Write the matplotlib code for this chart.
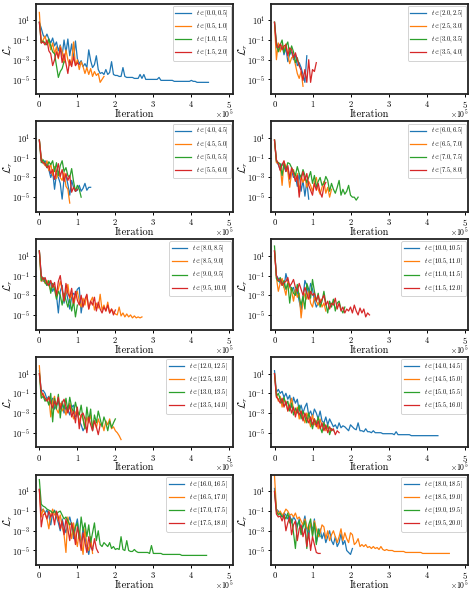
import numpy as np
import matplotlib
matplotlib.use("Agg")
import matplotlib.pyplot as plt
from matplotlib.ticker import FuncFormatter, FixedLocator, NullLocator

plt.rcParams.update({
    "font.family": "serif",
    "font.serif": ["cmr10", "DejaVu Serif"],
    "mathtext.fontset": "cm",
    "axes.formatter.use_mathtext": True,
    "axes.unicode_minus": False,
})

# iteration step between logged values
log_step = 5000
x_scale = 1e5

# t-interval start values (each interval 0.5 long), four per panel
t_starts = [[0.0, 0.5, 1.0, 1.5], [2.0, 2.5, 3.0, 3.5], [4.0, 4.5, 5.0, 5.5],
            [6.0, 6.5, 7.0, 7.5], [8.0, 8.5, 9.0, 9.5], [10.0, 10.5, 11.0, 11.5],
            [12.0, 12.5, 13.0, 13.5], [14.0, 14.5, 15.0, 15.5],
            [16.0, 16.5, 17.0, 17.5], [18.0, 18.5, 19.0, 19.5]]

# log10 of residual loss, per panel, per interval
loss_t00_02 = [
    [0.8,0.2,-0.5,-0.8,-0.4,-0.9,-1.3,-0.8,-1.6,-1.2,-2.1,-1.5,-2.6,-1.0,-2.3,-0.9,-2.6,-1.4,-3.0,-1.1,
     -2.9,-3.4,-3.1,-3.7,-3.4,-3.8,-2.0,-3.1,-3.8,-3.5,-2.6,-4.0,-4.4,-4.3,-4.5,-4.0,-4.5,-4.3,-3.2,-4.5,
     -4.6,-4.6,-4.7,-4.7,-3.8,-4.7,-4.8,-4.8,-4.8,-4.8,-4.9,-4.9,-4.9,-4.5,-4.9,-4.5,-5.0,-5.0,-5.0,-5.0,
     -5.0,-5.0,-5.0,-4.8,-5.1,-5.1,-5.1,-5.1,-5.1,-5.1,-5.1,-5.2,-5.2,-5.2,-5.2,-5.2,-5.2,-5.2,-5.2,-5.2,
     -5.1,-5.2,-5.2,-5.3,-5.3,-5.3,-5.3,-5.3,-5.3,-5.3],
    [1.8,-1.3,-1.0,-0.6,-1.4,-1.2,-2.0,-1.3,-2.4,-1.7,-2.9,-1.6,-2.2,-3.3,-2.0,-3.0,-3.6,-3.2,-1.2,-3.6,
     -3.0,-4.0,-3.2,-3.7,-4.4,-3.8,-4.5,-3.9,-4.7,-4.2,-4.6,-4.4,-5.3,-5.0,-4.7],
    [0.8,-1.3,-1.1,-1.3,-1.5,-0.9,-1.6,-2.2,-2.4,-3.6,-4.8,-4.2,-3.9,-3.2],
    [0.8,-1.3,-1.2,-1.5,-1.0,-2.1,-2.4,-3.6,-3.0,-2.2,-2.8,-1.8,-3.3,-2.4,-3.4,-4.4,-3.0,-3.7,-2.7,-3.6,
     -3.3,-3.5],
]
loss_t02_04 = [
    [0.8,-1.8,-1.4,-2.0,-1.5,-2.5,-1.8,-3.2,-2.4,-2.2,-3.0,-2.5,-3.6,-3.3,-3.8,-4.5,-5.3,-2.6],
    [0.8,-3.0,-1.3,-2.2,-1.5,-2.0,-1.4,-2.5,-3.4,-2.8,-2.6,-3.5,-4.4,-4.9,-4.2,-5.7],
    [0.8,-1.2,-2.2,-1.5,-1.0,-2.3,-1.6,-1.2,-2.5,-1.6,-2.2,-3.3,-2.8,-3.6],
    [0.8,-1.5,-1.8,-1.4,-2.0,-1.6,-1.5,-2.6,-1.8,-2.0,-2.8,-2.3,-3.0,-3.6,-4.1,-5.1,-4.0,-5.3,-3.0,-5.3,
     -4.0,-4.2,-3.3],
]
loss_t04_06 = [
    [0.8,-1.0,-1.6,-1.3,-1.8,-2.2,-3.0,-2.4,-4.2,-2.6,-3.0,-3.6,-5.2,-3.1,-2.8,-3.7,-4.8,-3.3,-4.0,-4.4,
     -4.3,-3.8,-4.4,-4.1,-3.6,-4.3,-4.0,-4.0],
    [0.8,-1.0,-1.5,-1.8,-1.3,-2.3,-1.6,-2.8,-1.9,-3.1,-2.4,-3.0,-3.3,-2.5,-3.9,-4.2,-5.6],
    [0.8,-1.5,-1.2,-1.6,-2.0,-1.4,-1.7,-1.3,-2.4,-1.5,-2.8,-1.8,-1.3,-2.4,-2.0,-2.8,-3.0,-2.1,-3.4,-4.4,
     -3.8,-4.2,-5.0],
    [0.8,-1.3,-1.5,-1.6,-2.0,-1.8,-2.6,-2.2,-3.2,-2.4,-1.6,-2.9,-2.2,-3.4,-2.6,-3.3,-2.8,-4.5,-4.0,-4.4,
     -4.2],
]
loss_t06_08 = [
    [0.8,-1.4,-1.7,-2.2,-1.6,-1.9,-2.4,-2.0,-3.2,-2.3,-3.0,-2.8,-3.9,-2.6,-4.4,-3.3,-4.9,-3.4,-5.2],
    [0.8,-1.5,-1.5,-1.7,-3.8,-1.4,-1.9,-2.4,-4.0,-2.5,-2.2,-3.3,-2.6,-4.5,-2.8,-3.5,-2.9,-4.0,-3.4,-3.8,
     -4.4,-3.5,-3.0,-4.2,-4.7,-4.0,-3.4,-4.6,-4.0,-5.0,-4.2],
    [0.8,-1.3,-1.5,-1.6,-2.8,-1.6,-2.2,-1.5,-1.6,-2.0,-2.4,-2.8,-1.9,-2.6,-3.0,-2.2,-2.8,-3.5,-3.0,-2.4,
     -3.6,-2.8,-4.0,-3.4,-3.0,-3.8,-3.6,-2.9,-3.3,-4.4,-3.6,-4.2,-4.6,-4.0,-3.3,-4.8,-4.2,-4.7,-4.4,-3.8,
     -4.8,-5.0,-5.0,-5.3,-5.0],
    [0.8,-1.2,-1.6,-2.3,-1.7,-1.3,-2.4,-1.8,-3.1,-2.0,-2.6,-3.4,-2.8,-5.0,-3.2,-2.4,-3.3,-2.6,-3.8,-4.3,
     -4.8,-3.6,-4.3,-3.6,-4.5,-5.0,-3.9,-3.5],
]
loss_t08_10 = [
    [1.5,-1.0,-1.6,-1.3,-2.0,-1.6,-1.8,-2.6,-2.2,-3.0,-4.8,-2.6,-2.0,-3.8,-2.5,-3.4,-4.4,-3.2,-2.8,-3.0,
     -2.4,-2.2,-4.8,-3.5],
    [1.5,-1.6,-1.3,-1.8,-1.5,-2.0,-2.5,-1.8,-2.2,-3.2,-2.4,-1.6,-2.4,-3.5,-2.8,-1.9,-3.4,-2.8,-4.0,-3.2,
     -2.6,-3.6,-4.2,-3.3,-4.0,-3.0,-4.4,-3.6,-3.2,-4.5,-3.8,-4.3,-2.9,-4.5,-4.0,-4.6,-3.7,-4.8,-4.4,-4.7,
     -4.9,-5.0,-4.2,-5.1,-4.8,-5.2,-4.9,-5.2,-5.0,-5.3,-5.1,-5.3,-5.2,-5.3,-5.2],
    [1.5,-1.5,-1.2,-1.7,-2.0,-1.5,-2.8,-1.8,-2.4,-3.4,-2.6,-3.0,-4.0,-2.8,-3.5,-4.2,-3.4,-4.6,-3.6,-5.2,
     -4.0],
    [1.5,-1.0,-1.4,-1.2,-1.8,-2.0,-1.5,-2.2,-1.7,-3.0,-1.6,-1.0,-2.4,-3.6,-1.8,-2.8,-3.2,-2.3,-3.8,-2.6,
     -3.5,-4.0,-3.0,-4.2,-3.4,-2.9,-4.4,-3.6,-4.0,-3.2,-4.6,-3.7,-4.4,-4.8,-4.2,-4.6,-4.0,-4.8,-4.4,-5.0,
     -4.5],
]
loss_t10_12 = [
    [1.5,-1.0,-1.3,-1.8,-1.5,-2.2,-0.8,-1.6,-2.0,-2.5,-2.2,-3.0,-2.6,-3.6,-4.5,-3.2,-1.5,-2.0,-3.0,-1.8,
     -2.4,-3.5,-4.2,-3.8],
    [1.5,-1.2,-2.6,-1.8,-1.3,-2.2,-3.0,-1.6,-2.2,-2.6,-3.6,-2.4,-3.2,-2.8,-5.3,-3.6,-2.8,-3.4,-2.6,-3.8,
     -4.2,-3.2,-3.6,-4.0,-3.4,-4.2,-3.8,-4.6],
    [2.0,-1.3,-1.6,-1.2,-2.0,-1.5,-2.4,-1.8,-3.8,-2.2,-2.8,-3.0,-1.9,-3.2,-4.0,-3.1,-4.4,-1.8,-2.4,-3.3,
     -1.4,-2.6,-3.6,-2.8,-4.2,-3.6,-2.6,-3.8,-4.8,-3.6,-4.2,-3.4,-4.6,-3.8,-3.6,-4.4,-4.8,-4.2],
    [1.5,-1.0,-1.5,-1.4,-2.0,-1.7,-1.6,-1.2,-2.1,-1.8,-1.4,-2.2,-2.6,-1.8,-2.4,-3.0,-2.2,-2.8,-3.4,-2.6,
     -3.0,-2.8,-3.6,-3.0,-3.8,-3.4,-3.0,-4.0,-3.6,-4.4,-3.8,-4.0,-3.3,-4.4,-3.8,-4.6,-4.2,-4.8,-4.4,-4.6,
     -4.2,-4.8,-4.0,-4.6,-5.0,-4.3,-4.8,-4.4,-5.2,-4.8,-5.0],
]
loss_t12_14 = [
    [1.3,-0.8,-0.7,-1.0,-1.6,-1.3,-2.0,-1.5,-2.6,-2.2,-1.8,-2.6,-2.0,-3.0,-2.4,-2.6,-3.2,-2.4,-2.2,-3.4,
     -3.0,-3.8,-4.2,-4.8,-4.4],
    [1.8,-1.3,-1.0,-1.5,-1.7,-1.4,-3.4,-1.8,-1.3,-2.6,-3.0,-2.0,-2.8,-2.4,-3.2,-2.3,-2.0,-2.8,-3.6,-3.0,
     -2.6,-4.0,-3.2,-3.6,-4.6,-3.4,-4.0,-3.2,-4.4,-3.8,-4.5,-3.6,-4.2,-4.0,-4.8,-3.8,-4.2,-3.6,-4.6,-4.4,
     -4.8,-5.0,-5.3,-5.7],
    [1.0,-1.5,-1.3,-1.8,-1.6,-2.2,-1.0,-3.9,-1.5,-2.6,-1.1,-3.5,-1.8,-2.6,-1.5,-2.8,-1.4,-2.4,-3.0,-1.9,
     -2.8,-3.2,-2.2,-3.6,-4.6,-2.4,-3.8,-2.6,-4.8,-3.2,-4.0,-2.8,-3.6,-4.4,-3.4,-4.0,-4.8,-3.8,-4.5,-4.0,
     -3.6],
    [1.0,-0.8,-1.2,-1.5,-1.8,-1.4,-2.0,-2.5,-1.8,-2.2,-1.4,-2.6,-2.0,-1.6,-2.4,-3.0,-2.2,-3.4,-2.8,-4.0,
     -2.4,-4.6,-3.2,-3.0,-3.6,-5.0,-3.4,-4.2,-4.8,-3.8,-4.4,-5.2,-4.2],
]
loss_t14_16 = [
    [1.3,-0.9,-0.6,-1.0,-0.8,-1.4,-1.0,-1.6,-1.2,-2.4,-1.4,-2.0,-1.6,-2.8,-2.2,-3.0,-2.4,-2.0,-3.2,-2.8,
     -3.4,-2.6,-3.0,-3.6,-2.8,-3.8,-4.0,-3.4,-4.2,-3.6,-4.0,-4.4,-4.2,-4.6,-4.0,-4.5,-4.3,-4.4,-4.6,-4.8,
     -4.2,-4.4,-4.6,-4.7,-4.0,-4.8,-4.8,-4.9,-4.6,-4.9,-4.9,-5.0,-4.8,-5.0,-5.0,-5.0,-5.0,-5.1,-5.1,-5.1,
     -5.1,-5.1,-5.1,-5.2,-4.9,-5.2,-5.2,-5.2,-5.2,-5.2,-5.2,-5.2,-5.3,-5.3,-5.3,-5.3,-5.3,-5.3,-5.3,-5.3,
     -5.3,-5.3,-5.3,-5.3,-5.3,-5.3,-5.3],
    [1.0,-1.0,-1.8,-1.3,-2.4,-1.6,-2.0,-2.8,-2.2,-1.5,-2.6,-3.0,-2.4,-3.6,-2.8,-3.3,-4.0,-3.0,-3.6,-4.4,
     -3.2,-4.2,-3.8,-4.6,-3.6,-4.4,-4.0,-4.8,-4.4,-5.0,-4.6],
    [1.0,-1.3,-1.0,-1.6,-2.0,-1.4,-2.2,-1.8,-2.8,-2.0,-3.2,-2.5,-3.0,-2.2,-3.6,-2.8,-3.4,-4.0,-3.0,-3.8,
     -4.6,-3.6,-4.2,-3.4,-4.4,-5.0,-4.0,-4.6,-4.2,-5.2,-4.6,-4.8],
    [1.0,-1.4,-1.6,-2.0,-1.5,-2.4,-1.8,-2.8,-2.2,-3.0,-2.4,-3.4,-2.6,-3.2,-2.8,-3.8,-3.0,-3.6,-4.0,-3.4,
     -4.2,-3.6,-4.4,-3.8,-4.6,-4.0,-4.8,-4.2,-5.0,-4.4,-4.8,-4.6,-5.2,-4.8,-5.0],
]
loss_t16_18 = [
    [1.2,-1.0,-0.8,-1.2,-0.9,-1.4,-2.4,-1.2,-0.9,-1.6,-2.2,-3.0,-1.8,-2.6,-3.2,-2.2,-1.6,-2.4,-3.8,-2.6,
     -1.8,-3.4,-4.2,-2.8,-3.6,-4.6,-5.4,-4.2,-4.8],
    [1.2,-1.6,-0.8,-1.3,-1.8,-2.8,-1.4,-0.8,-1.4,-1.2,-2.0,-1.4,-2.6,-3.4,-5.2,-1.6,-2.8,-3.8,-2.2,-3.6,
     -4.6,-3.0,-4.0,-5.4,-2.8,-4.4,-5.0,-3.6,-5.3],
    [2.2,-0.3,-0.5,-0.6,-0.8,-0.9,-1.0,-1.2,-1.0,-1.3,-1.1,-1.0,-1.4,-1.8,-1.6,-2.0,-2.4,-2.2,-3.4,-2.6,
     -2.2,-3.8,-1.6,-3.0,-2.2,-3.6,-2.4,-4.2,-3.2,-2.2,-4.0,-3.0,-4.4,-4.6,-4.2,-4.4,-4.6,-4.2,-4.8,-4.6,
     -4.9,-4.8,-4.9,-3.6,-4.9,-5.0,-4.0,-5.0,-5.1,-5.1,-4.9,-5.1,-5.2,-5.2,-5.2,-5.2,-5.2,-5.2,-5.3,-4.5,
     -5.3,-5.3,-5.3,-5.3,-5.3,-5.4,-5.4,-5.4,-5.4,-5.4,-5.4,-5.4,-5.4,-5.4,-5.4,-5.5,-5.5,-5.5,-5.5,-5.5,
     -5.5,-5.5,-5.5,-5.5,-5.5,-5.5,-5.5,-5.5,-5.5],
    [1.2,-2.6,-1.4,-1.2,-1.8,-1.0,-1.6,-1.2,-2.4,-1.0,-1.6,-2.8,-2.0,-3.4,-1.8,-2.8,-4.0,-2.2,-3.0,-4.4,
     -2.6,-3.6,-5.0,-3.2,-4.2,-5.2,-3.6,-4.6,-5.0,-3.8,-4.8,-5.2],
]
loss_t18_20 = [
    [1.3,-0.8,-1.0,-1.3,-1.6,-1.2,-1.4,-1.8,-1.4,-2.2,-1.6,-1.9,-2.6,-1.8,-3.2,-2.4,-1.5,-2.8,-3.6,-2.2,
     -3.0,-1.8,-4.2,-3.4,-2.8,-3.8,-3.2,-4.2,-3.6,-3.0,-4.0,-4.4,-3.6,-4.6,-4.2,-3.3,-4.4,-4.0,-5.0,-5.2,
     -5.4,-4.8],
    [2.6,-0.8,-1.3,-1.0,-1.4,-1.2,-0.8,-1.0,-1.4,-1.3,-1.6,-1.2,-1.8,-1.6,-2.0,-2.4,-1.8,-2.6,-3.0,-2.2,
     -3.4,-2.0,-2.8,-3.6,-3.2,-2.4,-2.6,-3.8,-3.0,-4.0,-3.4,-3.0,-3.6,-4.2,-3.6,-2.8,-4.0,-3.2,-3.8,-4.2,
     -3.2,-3.4,-4.4,-4.2,-3.8,-4.6,-4.4,-4.6,-4.4,-4.7,-4.6,-4.8,-4.6,-4.8,-4.7,-4.9,-4.6,-4.9,-5.0,-4.9,
     -5.0,-5.0,-5.0,-5.1,-5.1,-5.1,-5.1,-5.1,-5.1,-5.2,-5.2,-5.2,-5.2,-5.2,-5.2,-5.2,-5.2,-5.2,-5.3,-5.3,
     -5.3,-5.3,-5.3,-5.3,-5.3,-5.3,-5.3,-5.3,-5.3,-5.3,-5.3,-5.3,-5.3],
    [1.0,-1.0,-1.4,-1.2,-1.6,-1.4,-1.8,-1.2,-2.2,-1.8,-3.2,-4.8,-2.4,-2.0,-3.4,-2.6,-2.0,-4.8,-2.4,-1.8,
     -3.6,-2.2,-4.4,-2.8,-3.6],
    [1.0,-1.3,-1.6,-1.5,-2.0,-1.4,-3.0,-2.2,-1.6,-3.4,-2.4,-2.0,-4.0,-2.8,-2.4,-3.6,-2.8,-4.6,-3.2,-5.0,
     -3.6,-4.4,-5.2,-5.3,-5.3],
]

panels = [loss_t00_02, loss_t02_04, loss_t04_06, loss_t06_08, loss_t08_10,
          loss_t10_12, loss_t12_14, loss_t14_16, loss_t16_18, loss_t18_20]
colors = ["#1f77b4", "#ff7f0e", "#2ca02c", "#d62728"]
y_ticks = [1e1, 1e-1, 1e-3, 1e-5]
x_ticks = [0, 100000, 200000, 300000, 400000, 500000]

fig = plt.figure(figsize=(4.74, 5.95), dpi=100)
gs = fig.add_gridspec(5, 2, left=0.075, right=0.988, top=0.994, bottom=0.05,
                      wspace=0.19, hspace=0.30)

for k, (series, starts) in enumerate(zip(panels, t_starts)):
    ax = fig.add_subplot(gs[k // 2, k % 2])
    for s, (vals, t0) in enumerate(zip(series, starts)):
        v = np.asarray(vals)
        it = np.arange(len(v)) * log_step
        ax.plot(it, 10.0 ** v, color=colors[s], lw=0.9,
                label=r"$t \in [%.1f, %.1f]$" % (t0, t0 + 0.5))
    ax.set_yscale("log")
    ax.set_ylim(10 ** -6.5, 10 ** 2.7)
    ax.set_xlim(-10000, 510000)
    ax.yaxis.set_major_locator(FixedLocator(y_ticks))
    ax.yaxis.set_minor_locator(NullLocator())
    ax.set_xticks(x_ticks)
    ax.xaxis.set_major_formatter(FuncFormatter(lambda x, p: r"$%g$" % (x / x_scale)))
    ax.tick_params(labelsize=6.2, length=2.5, width=0.7, pad=1.2)
    ax.text(1.0, -0.165, r"$\times10^{5}$", transform=ax.transAxes,
            ha="right", va="top", fontsize=5.6)
    ax.set_xlabel("Iteration", fontsize=7.5, labelpad=-0.5)
    ax.set_ylabel(r"$\mathcal{L}_r$", fontsize=7.5)
    ax.yaxis.set_label_coords(-0.105, 0.49)
    for sp in ax.spines.values():
        sp.set_linewidth(1.3)
        sp.set_color("#222222")
    leg = ax.legend(loc="upper right", fontsize=4.6, handlelength=2.4,
                    borderpad=0.4, labelspacing=0.45, handletextpad=0.8,
                    framealpha=1.0, borderaxespad=0.35)
    leg.get_frame().set_linewidth(0.6)

fig.savefig("out.png", dpi=100)
